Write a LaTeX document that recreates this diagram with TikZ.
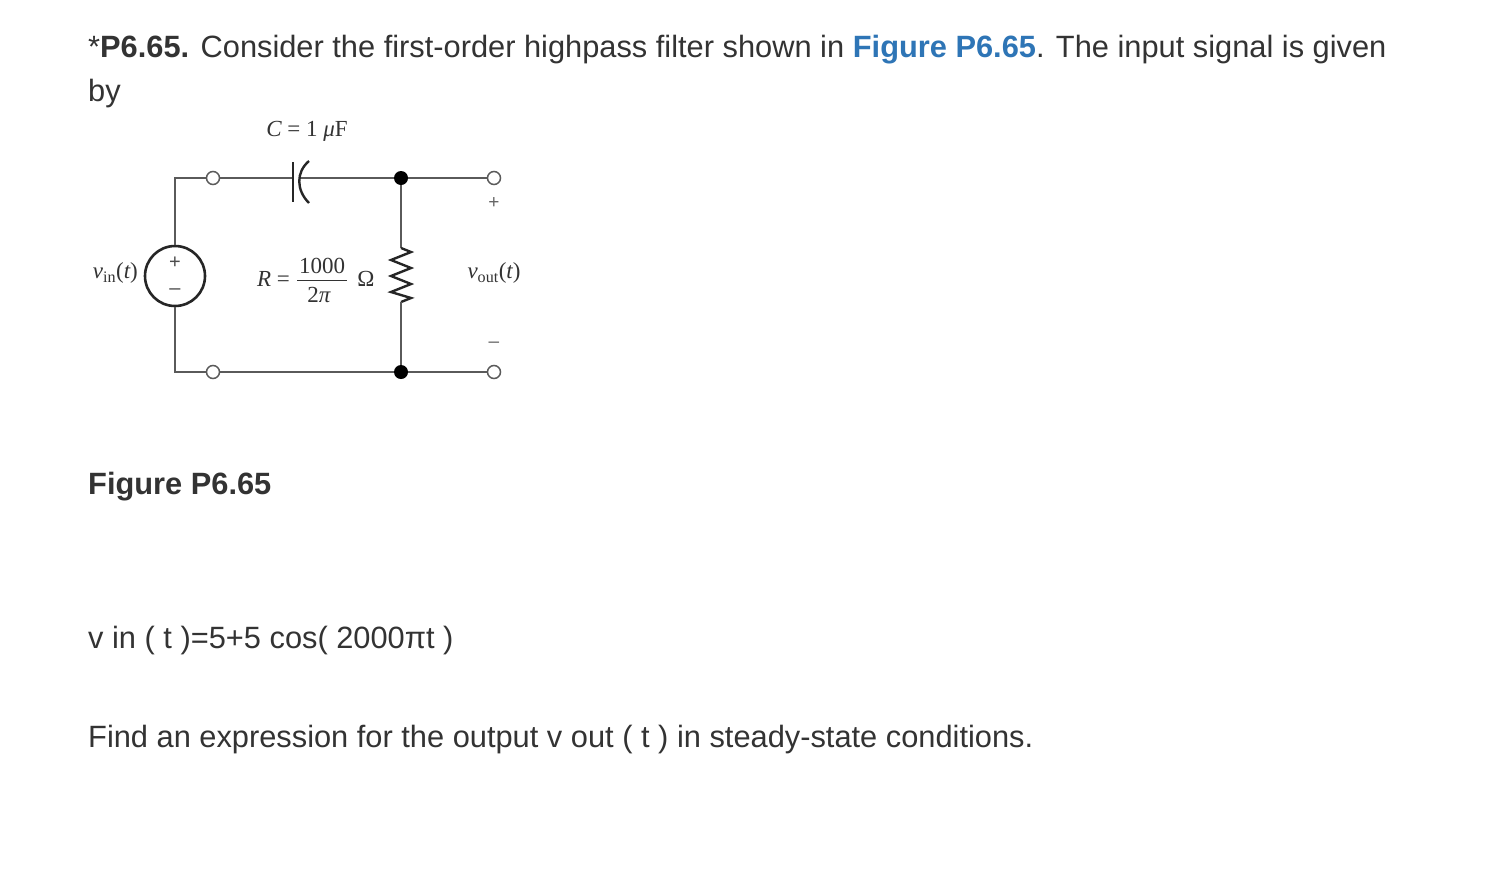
\documentclass[tikz,border=0pt]{standalone}
\usepackage{fontspec}
\setmainfont{Liberation Sans}
\newfontfamily\serifit{Liberation Serif}
\definecolor{txt}{RGB}{51,51,51}
\definecolor{lnk}{RGB}{46,117,182}
\definecolor{wire}{RGB}{90,90,90}
\begin{document}
\begin{tikzpicture}[x=1pt,y=-1pt,
  wr/.style={draw=wire,line width=2.2pt},
  term/.style={circle,draw=wire,fill=white,line width=1.5pt,inner sep=0pt,minimum size=13pt},
  dotn/.style={circle,fill=black,inner sep=0pt,minimum size=14pt},
  body/.style={anchor=base west,inner sep=0pt,text=txt,font=\fontsize{30.8}{36}\selectfont},
  cl/.style={inner sep=0pt,text=black!80,font=\fontsize{23}{26}\serifit}]
\useasboundingbox[fill=white] (0,0) rectangle (1488,868);
\node[body] (t1) at (88,57) {*\textbf{P6.65.} Consider the first-order highpass filter shown in \textcolor{lnk}{\textbf{Figure P6.65}}. The input signal is given};
\node[body] (t2) at (88,101) {by};
\node[body] (fg) at (88,494) {\textbf{Figure P6.65}};
\node[body] (eq) at (88,648) {v in ( t )=5+5 cos( 2000πt )};
\node[body] (fd) at (88,747) {Find an expression for the output v out ( t ) in steady-state conditions.};
% circuit
\coordinate (tl) at (175,178); \coordinate (bl) at (175,372);
\node[term] (a1) at (213,178) {}; \node[term] (a2) at (213,372) {};
\node[dotn] (d1) at (401,178) {}; \node[dotn] (d2) at (401,372) {};
\node[term] (o1) at (494,178) {}; \node[term] (o2) at (494,372) {};
\node[circle,draw=black!85,line width=2.6pt,minimum size=60pt,inner sep=0pt] (src) at (175,276) {};
\node[font=\fontsize{20}{20}\selectfont,text=black!70] at (175,263) {+};
\node[font=\fontsize{20}{20}\selectfont,text=black!70] at (175,292) {--};
\coordinate (c1) at (293,178); \coordinate (c2) at (299,178);
\draw[wr] (src.north) -- (tl) -- (a1) -- (c1);
\draw[wr] (c2) -- (d1) -- (o1);
\draw[draw=black!85,line width=2.4pt] (293,162) -- (293,202);
\draw[draw=black!85,line width=2.4pt] (309,161) .. controls (296,172) and (296,190) .. (309,203);
\draw[wr] (src.south) -- (bl) -- (a2) -- (d2) -- (o2);
\coordinate (r1) at (401,248); \coordinate (r2) at (401,302);
\draw[wr] (d1) -- (r1);
\draw[draw=black!85,line width=2.4pt,line join=miter] (r1) -- (411,252) -- (391,260) -- (411,268) -- (391,276) -- (411,284) -- (391,292) -- (411,298) -- (r2);
\draw[wr] (r2) -- (d2);
\node[cl] at (307,131) {\itshape C\upshape\ = 1 \itshape μ\upshape F};
\node[cl,anchor=east] at (138,273) {\itshape v\upshape\textsubscript{in}(\itshape t\upshape)};
\node[cl,anchor=east] at (290,279) {\itshape R\upshape\ =};
\node[cl] at (322,266) {1000};
\draw[black!80,line width=0.9pt] (297,280) -- (347,280);
\node[cl] at (319,295) {2\itshape π};
\node[cl] at (366,279) {Ω};
\node[cl] at (494,273) {\itshape v\upshape\textsubscript{out}(\itshape t\upshape)};
\node[font=\fontsize{19}{19}\selectfont,text=black!60] at (494,203) {+};
\node[font=\fontsize{19}{19}\selectfont,text=black!60] at (494,345) {--};
\end{tikzpicture}
\end{document}
